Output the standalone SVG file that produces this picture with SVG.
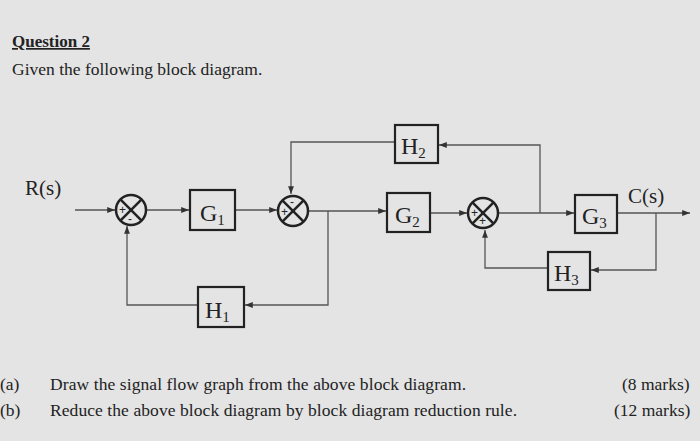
<svg xmlns="http://www.w3.org/2000/svg" width="700" height="441" viewBox="0 0 700 441">
<defs>
<style>
text{font-family:"Liberation Serif",serif;fill:#222}
.b rect{fill:none;stroke:#222;stroke-width:2.2}
.s circle{fill:none;stroke:#222;stroke-width:2.5}
.s line{stroke:#222;stroke-width:2.5}
.c path{fill:none;stroke:#555;stroke-width:1.3;marker-end:url(#a)}
.bt{font-size:24px}
.sg{font-size:12px;font-family:"Liberation Sans",sans-serif}
.q{font-size:17.5px}
</style>
<marker id="a" viewBox="0 0 8 8" refX="8" refY="4" markerWidth="6" markerHeight="6" orient="auto"><path d="M0,1 L8,4 L0,7z" fill="#333"/></marker>
</defs>
<rect width="700" height="441" fill="#e4e4e4"/>
<text x="12" y="47" font-size="17" font-weight="bold" text-decoration="underline">Question 2</text>
<text x="12" y="75" font-size="17.5">Given the following block diagram.</text>
<text x="25" y="195" font-size="21">R(s)</text>
<text x="628" y="203" font-size="21">C(s)</text>
<g class="c">
<path d="M75,210 H115"/>
<path d="M146,210 H189"/>
<path d="M235,210 H277"/>
<path d="M308,211 H386"/>
<path d="M430,213 H467"/>
<path d="M498,213 H574"/>
<path d="M617,213 H690"/>
<path d="M328,211 V305 H245"/>
<path d="M198,305 H127 V226"/>
<path d="M540,213 V145 H439"/>
<path d="M395,142 H291 V194"/>
<path d="M656,213 V270 H591"/>
<path d="M548,268 H485 V230"/>
</g>
<g class="b">
<g id="G1"><rect x="190" y="190" width="45" height="40"/><text x="200" y="221" class="bt">G<tspan font-size="15" dy="4">1</tspan></text></g>
<g id="G2"><rect x="387" y="193" width="43" height="39"/><text x="395" y="223" class="bt">G<tspan font-size="15" dy="4">2</tspan></text></g>
<g id="G3"><rect x="575" y="195" width="42" height="38"/><text x="582" y="224" class="bt">G<tspan font-size="15" dy="4">3</tspan></text></g>
<g id="H1"><rect x="198" y="287" width="46" height="40"/><text x="205" y="318" class="bt">H<tspan font-size="15" dy="4">1</tspan></text></g>
<g id="H2"><rect x="395" y="125" width="43" height="38"/><text x="401" y="154" class="bt">H<tspan font-size="15" dy="4">2</tspan></text></g>
<g id="H3"><rect x="548" y="252" width="42" height="38"/><text x="554" y="281" class="bt">H<tspan font-size="15" dy="4">3</tspan></text></g>
</g>
<g class="s">
<g id="S1"><circle cx="131" cy="210" r="15"/><line x1="120.4" y1="199.4" x2="141.6" y2="220.6"/><line x1="141.6" y1="199.4" x2="120.4" y2="220.6"/><text x="119" y="214" class="sg">+</text><text x="128" y="223" class="sg">-</text></g>
<g id="S2"><circle cx="293" cy="211" r="15"/><line x1="282.4" y1="200.4" x2="303.6" y2="221.6"/><line x1="303.6" y1="200.4" x2="282.4" y2="221.6"/><text x="281" y="216" class="sg">+</text><text x="290" y="206" class="sg">-</text></g>
<g id="S3"><circle cx="483" cy="213" r="15"/><line x1="472.4" y1="202.4" x2="493.6" y2="223.6"/><line x1="493.6" y1="202.4" x2="472.4" y2="223.6"/><text x="471" y="217" class="sg">+</text><text x="479" y="225" class="sg">+</text></g>
</g>
<text x="0" y="390" class="q">(a)</text>
<text x="50" y="390" class="q" textLength="416">Draw the signal flow graph from the above block diagram.</text>
<text x="622" y="390" class="q">(8 marks)</text>
<text x="0" y="416" class="q">(b)</text>
<text x="50" y="416" class="q" textLength="467">Reduce the above block diagram by block diagram reduction rule.</text>
<text x="614" y="416" class="q">(12 marks)</text>
</svg>
